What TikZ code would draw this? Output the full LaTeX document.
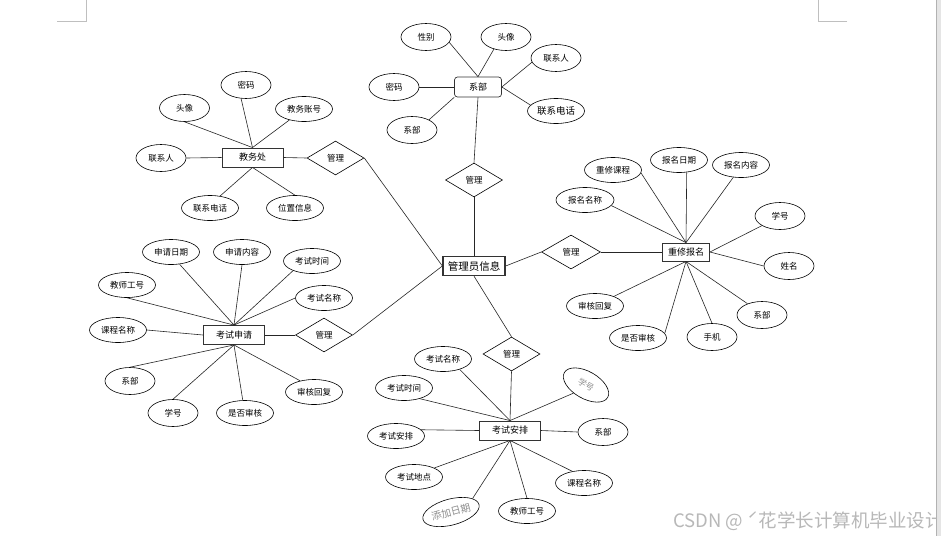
\documentclass[tikz,border=0pt]{standalone}
\usepackage{fontspec}
\setmainfont{Liberation Sans}
\newfontfamily\cjk{Noto Sans CJK SC}
\usetikzlibrary{shapes.geometric}
\begin{document}
\begin{tikzpicture}[x=1pt,y=-1pt,
  lbl/.style={font=\cjk\fontsize{8.5}{10}\selectfont},
  attr/.style={ellipse,draw=black,line width=0.6pt,minimum width=50pt,minimum height=27pt,inner sep=0pt,lbl},
  attrw/.style={attr,minimum width=57pt,minimum height=25pt},
  ent/.style={rectangle,draw=black!80,line width=0.9pt,minimum width=61pt,minimum height=19pt,inner sep=0pt,font=\cjk\fontsize{9}{10}\selectfont},
  rel/.style={diamond,draw=black,line width=0.6pt,minimum width=57pt,minimum height=34pt,inner sep=0pt,lbl},
  link/.style={draw=black!85,line width=0.6pt},
  ghost/.style={text=black!45},
  corner/.style={draw=black!25,line width=0.7pt}]
\useasboundingbox (0,0) rectangle (941,536);
\fill[white] (0,0) rectangle (941,536);

% page corner marks and right edge
\draw[corner] (57,21) -- (86,21) -- (86,0);
\draw[corner] (847,21) -- (818,21) -- (818,0);

% ---------- central entity ----------
\node[ent,line width=1.3pt,minimum width=62pt,font=\cjk\fontsize{10.5}{12}\selectfont] (ad) at (474,266) {管理员信息};

% ---------- 系部 ----------
\node[ent,rounded corners=3pt,minimum width=47pt,minimum height=20pt,line width=0.7pt] (xb) at (478,87) {系部};
\node[attr] (xb1) at (426,37) {性别};
\node[attr] (xb2) at (506,37) {头像};
\node[attr] (xb3) at (556,58) {联系人};
\node[attrw,font=\cjk\fontsize{9.5}{11}\selectfont] (xb4) at (556,111) {联系电话};
\node[attr] (xb5) at (394,87) {密码};
\node[attr] (xb6) at (412,130) {系部};
\node[rel] (rxb) at (474,180) {管理};

\draw[link] (xb1.-13) -- (xb.north);
\draw[link] (xb2.225) -- (xb.north);
\draw[link] (xb3.190) -- (xb.east);
\draw[link] (xb4.167) -- (xb.east);
\draw[link] (xb5.east) -- (xb.west);
\draw[link] (xb6.31) -- (xb.south west);
\draw[link] (xb.south) -- (rxb.north);
\draw[link] (rxb.south) -- (ad.north);

% ---------- 教务处 ----------
\node[ent] (jw) at (252.5,157.5) {教务处};
\node[attr] (jw1) at (246,85) {密码};
\node[attr] (jw2) at (184.5,108) {头像};
\node[attrw] (jw3) at (304,109) {教务账号};
\node[attr] (jw4) at (161,158) {联系人};
\node[attrw] (jw5) at (210,208) {联系电话};
\node[attrw] (jw6) at (295,208) {位置信息};
\node[rel] (rjw) at (335.5,158) {管理};

\draw[link] (jw1.250) -- (jw.north);
\draw[link] (jw2.south) -- (jw.north);
\draw[link] (jw3.217) -- (jw.north);
\draw[link] (jw4.east) -- (jw.west);
\draw[link] (jw5.50) -- (jw.south);
\draw[link] (jw6.north) -- (jw.south);
\draw[link] (jw.east) -- (rjw.west);
\draw[link] (rjw.east) -- (ad.west);

% ---------- 考试申请 ----------
\node[ent] (ks) at (234,335) {考试申请};
\node[attrw] (ks1) at (171,252) {申请日期};
\node[attrw] (ks2) at (242,252) {申请内容};
\node[attrw] (ks3) at (312,261) {考试时间};
\node[attrw] (ks4) at (127,285) {教师工号};
\node[attrw] (ks5) at (324,298) {考试名称};
\node[attrw] (ks6) at (118,330) {课程名称};
\node[attr] (ks7) at (130,381) {系部};
\node[attr] (ks8) at (173,413) {学号};
\node[attrw] (ks9) at (245,413) {是否审核};
\node[attrw] (ks10) at (314,392) {审核回复};
\node[rel] (rks) at (324,335) {管理};

\draw[link] (ks1.305) -- (ks.north);
\draw[link] (ks2.south) -- (ks.north);
\draw[link] (ks3.207) -- (ks.north);
\draw[link] (ks4.south) -- (ks.north);
\draw[link] (ks5.west) -- (ks.north);
\draw[link] (ks6.east) -- (ks.west);
\draw[link] (ks7.north) -- (ks.south);
\draw[link] (ks8.north) -- (ks.south);
\draw[link] (ks9.100) -- (ks.south);
\draw[link] (ks10.141) -- (ks.south);
\draw[link] (ks.east) -- (rks.west);
\draw[link] (rks.east) -- (ad.west);

% ---------- 重修报名 ----------
\node[ent,minimum width=47pt,minimum height=18pt] (cx) at (686,252) {重修报名};
\node[attrw] (cx1) at (613,170) {重修课程};
\node[attrw] (cx2) at (679,160) {报名日期};
\node[attrw] (cx3) at (741,165) {报名内容};
\node[attrw,minimum width=58pt] (cx4) at (585,200) {报名名称};
\node[attr] (cx5) at (780,216) {学号};
\node[attr] (cx6) at (789,266) {姓名};
\node[attrw] (cx7) at (595,306) {审核回复};
\node[attrw] (cx8) at (638,338) {是否审核};
\node[attr] (cx9) at (712,337) {手机};
\node[attr] (cx10) at (762,315) {系部};
\node[rel,minimum width=59pt] (rcx) at (571,252) {管理};

\draw[link] (cx1.-6) -- (cx.north);
\draw[link] (cx2.302) -- (cx.north);
\draw[link] (cx3.238) -- (cx.north);
\draw[link] (cx4.348) -- (cx.north);
\draw[link] (cx5.208) -- (cx.east);
\draw[link] (cx6.west) -- (cx.east);
\draw[link] (cx7.27) -- (cx.south);
\draw[link] (cx8.10) -- (cx.south);
\draw[link] (cx9.north) -- (cx.south);
\draw[link] (cx10.142) -- (cx.south);
\draw[link] (ad.east) -- (rcx.west);
\draw[link] (rcx.east) -- (cx.west);

% ---------- 考试安排 ----------
\node[ent] (ka) at (510,430.5) {考试安排};
\node[attrw] (ka1) at (443,359) {考试名称};
\node[attrw] (ka2) at (404,388) {考试时间};
\node[attr,rotate=-30,ghost] (ka3) at (586,385) {学号};
\node[attrw] (ka4) at (396,436) {考试安排};
\node[attr] (ka5) at (603,432) {系部};
\node[attrw] (ka6) at (414,477) {考试地点};
\node[attrw,rotate=15,ghost,minimum width=58pt,minimum height=26pt,font=\cjk\fontsize{10}{11}\selectfont] (ka7) at (451,512) {添加日期};
\node[attrw] (ka8) at (527,511) {教师工号};
\node[attrw] (ka9) at (584,483) {课程名称};
\node[rel] (rka) at (511.5,354) {管理};

\draw[link] (ka1.328) -- (ka.north);
\draw[link] (ka2.326) -- (ka.north);
\draw[link] (ka3.243) -- (ka.north);
\draw[link] (ka4.14) -- (ka.west);
\draw[link] (ka5.west) -- (ka.east);
\draw[link] (ka6.24) -- (ka.south);
\draw[link] (ka7.17) -- (ka.south);
\draw[link] (ka8.north) -- (ka.south);
\draw[link] (ka9.135) -- (ka.south);
\draw[link] (ad.south) -- (rka.north);
\draw[link] (rka.south) -- (ka.north);

% ---------- watermark and edge ----------
\begin{scope}
\clip (600,500) rectangle (936,536);
\node[anchor=west,inner sep=0pt,text=black!28,font=\cjk\fontsize{18.5}{20}\selectfont] (wm) at (673,521) {CSDN @ ˊ花学长计算机毕业设计};
\end{scope}
\fill[black!10] (936,0) rectangle (941,536);
\draw[black!30,line width=0.6pt] (936,0) -- (936,536);
\end{tikzpicture}
\end{document}
